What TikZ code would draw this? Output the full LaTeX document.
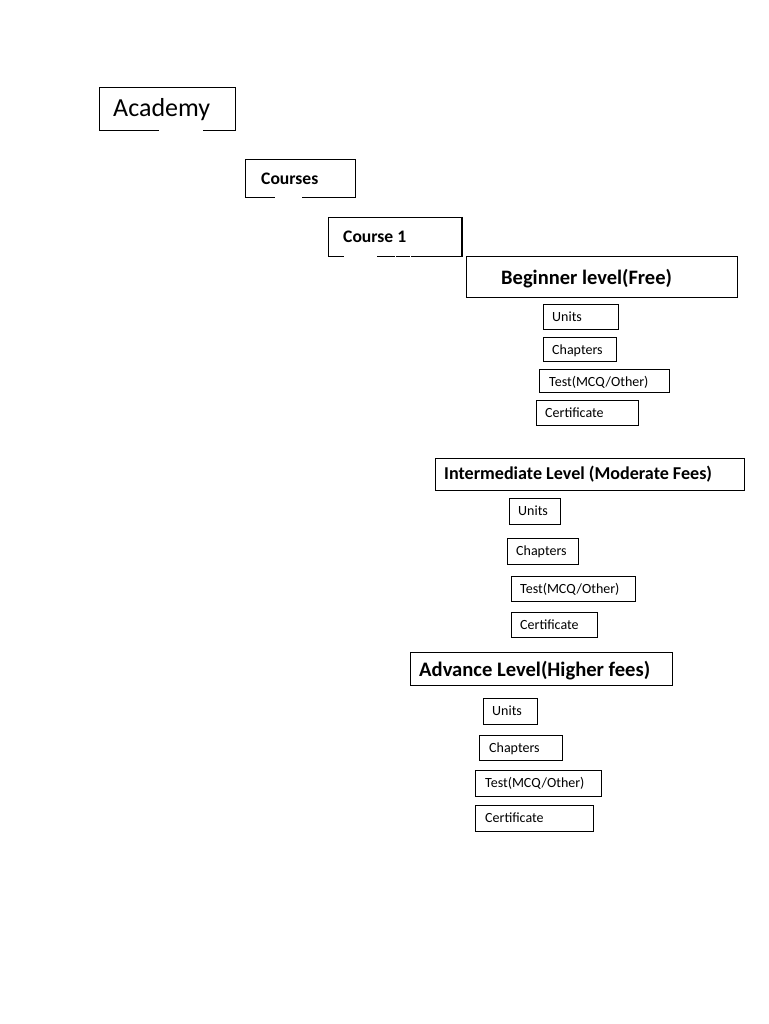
\documentclass[tikz,border=0pt]{standalone}
\usepackage{fontspec}
\setmainfont{Carlito}
\begin{document}
\begin{tikzpicture}[x=1pt,y=-1pt,
  box/.style={draw=black, line width=1pt, inner sep=0pt, anchor=north west},
  lbl/.style={anchor=base west, inner sep=0pt},
  huge/.style={lbl, font=\fontsize{26}{30}\selectfont},
  bigb/.style={lbl, font=\fontsize{20.5}{24}\selectfont\bfseries},
  midb/.style={lbl, font=\fontsize{17.6}{21}\selectfont\bfseries},
  small/.style={lbl, font=\fontsize{14}{17}\selectfont},
  gap/.style={draw=white, line width=2pt}]
\fill[white] (0,0) rectangle (768,1024);
\useasboundingbox (0,0) rectangle (768,1024);
% top chain
\node[box, minimum width=136pt, minimum height=43pt] (acad) at (99,87) {};
\node[huge] (acadT) at (113,117) {Academy};
\node[box, minimum width=110pt, minimum height=38pt] (cour) at (245,159) {};
\node[midb] (courT) at (261,185) {Courses};
\node[box, minimum width=133pt, minimum height=39pt] (c1) at (328,217) {};
\node[midb] (c1T) at (343,242) {Course 1};
\draw[line width=2pt] (c1.north east) -- (c1.south east);
% gaps in bottom edges
\coordinate (g1a) at (159,130); \coordinate (g1b) at (203,130);
\draw[gap] (g1a) -- (g1b);
\coordinate (g2a) at (275,197); \coordinate (g2b) at (302,197);
\draw[gap] (g2a) -- (g2b);
\coordinate (g3a) at (344,256); \coordinate (g3b) at (377,256);
\draw[gap] (g3a) -- (g3b);
\coordinate (g4a) at (394.5,256); \coordinate (g4b) at (395.5,256);
\draw[gap] (g4a) -- (g4b);
\coordinate (g5a) at (409.5,256); \coordinate (g5b) at (410.5,256);
\draw[gap] (g5a) -- (g5b);
% beginner
\node[box, minimum width=271pt, minimum height=41pt] (beg) at (466,256) {};
\node[bigb] (begT) at (501,284) {Beginner level(Free)};
\node[box, minimum width=75pt, minimum height=25pt] (bu) at (543,304) {};
\node[small] (buT) at (552,321) {Units};
\node[box, minimum width=73pt, minimum height=24pt] (bc) at (543,337) {};
\node[small] (bcT) at (552,354) {Chapters};
\node[box, minimum width=130pt, minimum height=23pt] (bt) at (539,369) {};
\node[small] (btT) at (549,386) {Test(MCQ/Other)};
\node[box, minimum width=102pt, minimum height=25pt] (bce) at (536,400) {};
\node[small] (bceT) at (545,417) {Certificate};
% intermediate
\node[box, minimum width=309pt, minimum height=32pt] (int) at (435,458) {};
\node[midb, font=\fontsize{18.1}{21}\selectfont\bfseries] (intT) at (444,479) {Intermediate Level (Moderate Fees)};
\node[box, minimum width=51pt, minimum height=26pt] (iu) at (509,498) {};
\node[small] (iuT) at (518,515) {Units};
\node[box, minimum width=71pt, minimum height=26pt] (ic) at (507,538) {};
\node[small] (icT) at (516,555) {Chapters};
\node[box, minimum width=124pt, minimum height=25pt] (it) at (511,576) {};
\node[small] (itT) at (520,593) {Test(MCQ/Other)};
\node[box, minimum width=86pt, minimum height=25pt] (ice) at (511,612) {};
\node[small] (iceT) at (520,629) {Certificate};
% advance
\node[box, minimum width=262pt, minimum height=33pt] (adv) at (410,652) {};
\node[bigb, font=\fontsize{20.6}{24}\selectfont\bfseries] (advT) at (419,676) {Advance Level(Higher fees)};
\node[box, minimum width=54pt, minimum height=26pt] (au) at (483,698) {};
\node[small] (auT) at (492,715) {Units};
\node[box, minimum width=83pt, minimum height=25pt] (ac) at (479,735) {};
\node[small] (acT) at (489,752) {Chapters};
\node[box, minimum width=126pt, minimum height=26pt] (at) at (475,770) {};
\node[small] (atT) at (485,787) {Test(MCQ/Other)};
\node[box, minimum width=118pt, minimum height=26pt] (ace) at (475,805) {};
\node[small] (aceT) at (485,822) {Certificate};
\end{tikzpicture}
\end{document}
